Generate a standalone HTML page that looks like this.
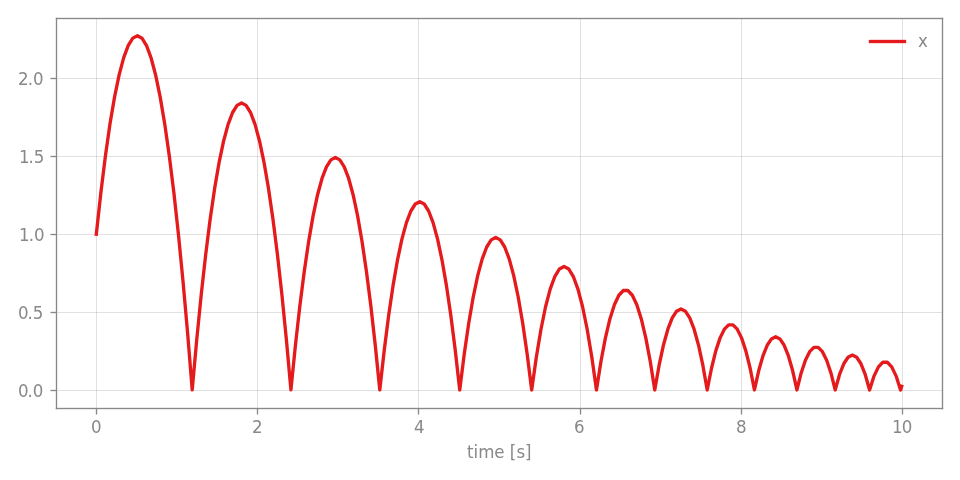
<!DOCTYPE html>
<html lang="en">
<head>
<meta charset="utf-8">
<title>Bouncing ball: x over time</title>
<style>
html,body{margin:0;padding:0;background:#ffffff;}
body{width:960px;height:480px;overflow:hidden;}
svg{display:block;}
svg text{font-family:"DejaVu Sans","Liberation Sans",sans-serif;font-size:16.6667px;fill:#888888;}
.grid line{stroke:#888888;stroke-opacity:0.3;stroke-width:0.8333;}
.spine line,.ticks line{stroke:#888888;stroke-width:1.3333;}
</style>
</head>
<body>
<svg width="960" height="480" viewBox="0 0 960 480">
<rect x="0" y="0" width="960" height="480" fill="#ffffff"/>
<g class="grid">
<line x1="96.5" y1="18.5" x2="96.5" y2="408.5"/>
<line x1="257.5" y1="18.5" x2="257.5" y2="408.5"/>
<line x1="418.5" y1="18.5" x2="418.5" y2="408.5"/>
<line x1="580.5" y1="18.5" x2="580.5" y2="408.5"/>
<line x1="741.5" y1="18.5" x2="741.5" y2="408.5"/>
<line x1="902.5" y1="18.5" x2="902.5" y2="408.5"/>
<line x1="56.5" y1="390.5" x2="942.5" y2="390.5"/>
<line x1="56.5" y1="312.5" x2="942.5" y2="312.5"/>
<line x1="56.5" y1="234.5" x2="942.5" y2="234.5"/>
<line x1="56.5" y1="156.5" x2="942.5" y2="156.5"/>
<line x1="56.5" y1="78.5" x2="942.5" y2="78.5"/>
</g>
<g class="ticks">
<line x1="96.5" y1="408.5" x2="96.5" y2="414.5"/>
<line x1="257.5" y1="408.5" x2="257.5" y2="414.5"/>
<line x1="418.5" y1="408.5" x2="418.5" y2="414.5"/>
<line x1="580.5" y1="408.5" x2="580.5" y2="414.5"/>
<line x1="741.5" y1="408.5" x2="741.5" y2="414.5"/>
<line x1="902.5" y1="408.5" x2="902.5" y2="414.5"/>
<line x1="50.5" y1="390.5" x2="56.5" y2="390.5"/>
<line x1="50.5" y1="312.5" x2="56.5" y2="312.5"/>
<line x1="50.5" y1="234.5" x2="56.5" y2="234.5"/>
<line x1="50.5" y1="156.5" x2="56.5" y2="156.5"/>
<line x1="50.5" y1="78.5" x2="56.5" y2="78.5"/>
</g>
<polyline points="96.31,234.19 100.88,192.49 105.45,155.70 110.01,123.82 114.58,96.86 119.14,74.81 123.71,57.67 128.28,45.44 132.84,38.12 137.41,35.71 141.98,38.22 146.54,45.64 151.11,57.96 155.67,75.21 160.24,97.36 164.81,124.42 169.37,156.40 173.94,193.29 178.51,235.09 183.07,281.80 187.64,333.42 192.21,389.95 196.69,340.16 201.18,295.10 205.67,254.79 210.15,219.22 214.64,188.39 219.13,162.30 223.62,140.96 228.10,124.36 232.59,112.50 237.08,105.39 241.56,103.02 246.05,105.39 250.54,112.50 255.03,124.36 259.51,140.96 264.00,162.30 268.49,188.39 272.97,219.22 277.46,254.79 281.95,295.10 286.43,340.16 290.92,389.95 295.36,345.80 299.81,306.28 304.25,271.42 308.69,241.21 313.13,215.64 317.58,194.72 322.02,178.45 326.46,166.83 330.90,159.86 335.34,157.54 339.79,159.86 344.23,166.83 348.67,178.45 353.11,194.72 357.56,215.64 362.00,241.21 366.44,271.42 370.88,306.28 375.32,345.80 379.77,389.95 384.21,350.44 388.65,315.58 393.09,285.37 397.54,259.80 401.98,238.88 406.42,222.61 410.86,210.99 415.30,204.02 419.75,201.70 424.19,204.02 428.63,210.99 433.07,222.61 437.52,238.88 441.96,259.80 446.40,285.37 450.84,315.58 455.28,350.44 459.73,389.95 464.22,354.21 468.72,323.24 473.22,297.03 477.72,275.59 482.22,258.91 486.71,247.00 491.21,239.85 495.71,237.46 500.21,239.85 504.70,247.00 509.20,258.91 513.70,275.59 518.20,297.03 522.70,323.24 527.19,354.21 531.69,389.95 536.32,357.18 540.94,329.46 545.57,306.77 550.20,289.12 554.82,276.52 559.45,268.96 564.07,266.44 568.70,268.96 573.33,276.52 577.95,289.12 582.58,306.77 587.21,329.46 591.83,357.18 596.46,389.95 600.94,361.54 605.43,337.86 609.91,318.91 614.39,304.71 618.88,295.23 623.36,290.50 627.85,290.50 632.33,295.23 636.81,304.71 641.30,318.91 645.78,337.86 650.27,361.54 654.75,389.95 659.12,365.19 663.49,344.93 667.87,329.18 672.24,317.92 676.61,311.17 680.98,308.92 685.35,311.17 689.72,317.92 694.10,329.18 698.47,344.93 702.84,365.19 707.21,389.95 711.50,368.25 715.80,350.89 720.09,337.88 724.38,329.20 728.67,324.86 732.97,324.86 737.26,329.20 741.55,337.88 745.84,350.89 750.14,368.25 754.43,389.95 758.68,370.81 762.93,355.93 767.18,345.29 771.43,338.91 775.67,336.78 779.92,338.91 784.17,345.29 788.42,355.93 792.67,370.81 796.92,389.95 801.17,372.94 805.42,360.18 809.67,351.67 813.92,347.42 818.17,347.42 822.42,351.67 826.67,360.18 830.92,372.94 835.17,389.95 839.47,374.69 843.77,363.79 848.07,357.25 852.38,355.07 856.68,357.25 860.98,363.79 865.28,374.69 869.59,389.95 874.01,376.11 878.44,366.89 882.86,362.27 887.29,362.27 891.71,366.89 896.14,376.11 900.56,389.95 901.73,386.29" fill="none" stroke="#e41a1c" stroke-width="3.3333" stroke-linejoin="round" stroke-linecap="square"/>
<g class="spine">
<line x1="56.5" y1="17.83" x2="56.5" y2="409.17"/>
<line x1="942.5" y1="17.83" x2="942.5" y2="409.17"/>
<rect x="55.83" y="17" width="887.34" height="3" fill="#888888" fill-opacity="0.176"/>
<rect x="55.83" y="18" width="887.34" height="1" fill="#888888"/>
<rect x="55.83" y="407" width="887.34" height="3" fill="#888888" fill-opacity="0.176"/>
<rect x="55.83" y="408" width="887.34" height="1" fill="#888888"/>
</g>
<g class="labels">
<text x="91" transform="translate(0,433.33) scale(1,1.08)">0</text>
<text x="252" transform="translate(0,433.33) scale(1,1.09)">2</text>
<text x="414" transform="translate(0,433.33) scale(1,1.1)">4</text>
<text x="574" transform="translate(0,433.33) scale(1,1.08)">6</text>
<text x="736" transform="translate(0,433.33) scale(1,1.08)">8</text>
<text x="892 901.75" transform="translate(0,433.33) scale(1,1.11)">10</text>
<text x="467 473.5 478.25 494.25 504.5 509.75 516.5 525" transform="translate(0,458.00) scale(1,1.11)">time [s]</text>
<text x="18 27.5 32.75" transform="translate(0,396.95) scale(1,1.08)">0.0</text>
<text x="18 27.5 32.75" transform="translate(0,319.07) scale(1,1.08)">0.5</text>
<text x="19 28.75 34" transform="translate(0,241.19) scale(1,1.11)">1.0</text>
<text x="19 28.5 33.75" transform="translate(0,163.31) scale(1,1.08)">1.5</text>
<text x="18 27.75 33" transform="translate(0,85.42) scale(1,1.11)">2.0</text>
<text x="918" transform="translate(0,47.00) scale(1,1.06)">x</text>
</g>
<g class="legend">
<rect x="869" y="39" width="37" height="5" fill="#e41a1c" fill-opacity="0.17"/>
<rect x="868" y="40" width="39" height="3" fill="#e41a1c" fill-opacity="0.17"/>
<rect x="869" y="40" width="37" height="3" fill="#e41a1c"/>
</g>
</svg>
</body>
</html>
